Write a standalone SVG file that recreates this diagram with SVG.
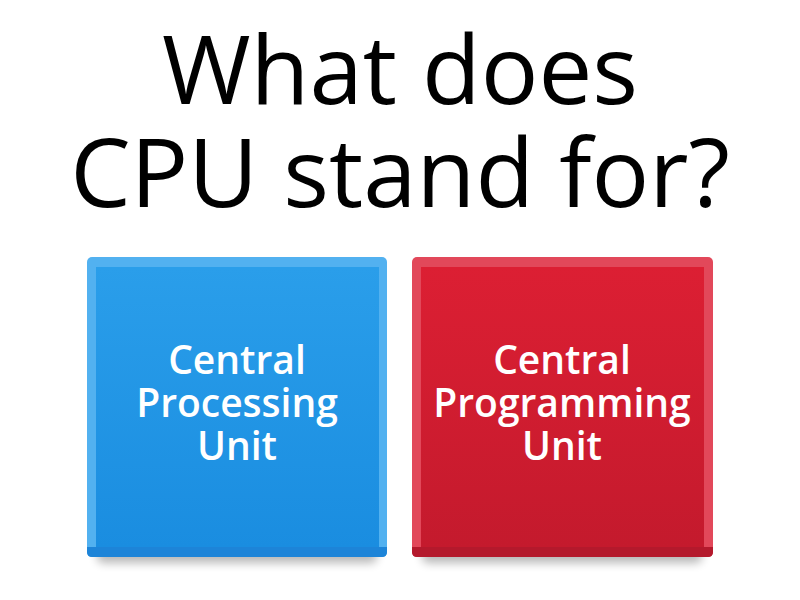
<svg xmlns="http://www.w3.org/2000/svg" width="800" height="600" viewBox="0 0 800 600">
<defs>
<style>
.title{font-family:"Open Sans","Noto Sans","Liberation Sans",sans-serif;font-size:96px;fill:#000;text-anchor:middle}
.lbl{font-family:"Open Sans","Noto Sans","Liberation Sans",sans-serif;font-size:39px;font-weight:600;fill:#fff;text-anchor:middle}
</style>
<linearGradient id="gBlue" x1="0" y1="0" x2="0" y2="1">
<stop offset="0" stop-color="#2a9eea"/>
<stop offset="1" stop-color="#1a8de0"/>
</linearGradient>
<linearGradient id="gRed" x1="0" y1="0" x2="0" y2="1">
<stop offset="0" stop-color="#dc1f33"/>
<stop offset="1" stop-color="#c41a2d"/>
</linearGradient>
<filter id="sh" x="-20%" y="-20%" width="140%" height="140%">
<feGaussianBlur stdDeviation="5"/>
</filter>
</defs>
<rect width="800" height="600" fill="#fff"/>
<g id="title">
<text class="title" x="400" y="104">What does</text>
<text class="title" x="400" y="207">CPU stand for?</text>
</g>
<g id="node-a">
<rect x="97" y="280" width="280" height="283" rx="6" fill="#000" opacity="0.28" filter="url(#sh)"/>
<rect x="87" y="257" width="300" height="300" rx="5" fill="#52b1f0"/>
<path d="M87 547 L387 547 L387 552 Q387 557 382 557 L92 557 Q87 557 87 552 Z" fill="#1d84d8"/>
<rect x="96" y="267" width="283" height="280" fill="url(#gBlue)"/>
<text class="lbl" x="237" y="374">Central</text>
<text class="lbl" x="237" y="417">Processing</text>
<text class="lbl" x="237" y="460">Unit</text>
</g>
<g id="node-b">
<rect x="422" y="280" width="280" height="283" rx="6" fill="#000" opacity="0.28" filter="url(#sh)"/>
<rect x="412" y="257" width="301" height="300" rx="5" fill="#e2485a"/>
<path d="M412 547 L713 547 L713 552 Q713 557 708 557 L417 557 Q412 557 412 552 Z" fill="#b4192c"/>
<rect x="421" y="267" width="283" height="280" fill="url(#gRed)"/>
<text class="lbl" x="562" y="374">Central</text>
<text class="lbl" x="562" y="417">Programming</text>
<text class="lbl" x="562" y="460">Unit</text>
</g>
<g id="connectors"></g>
</svg>
